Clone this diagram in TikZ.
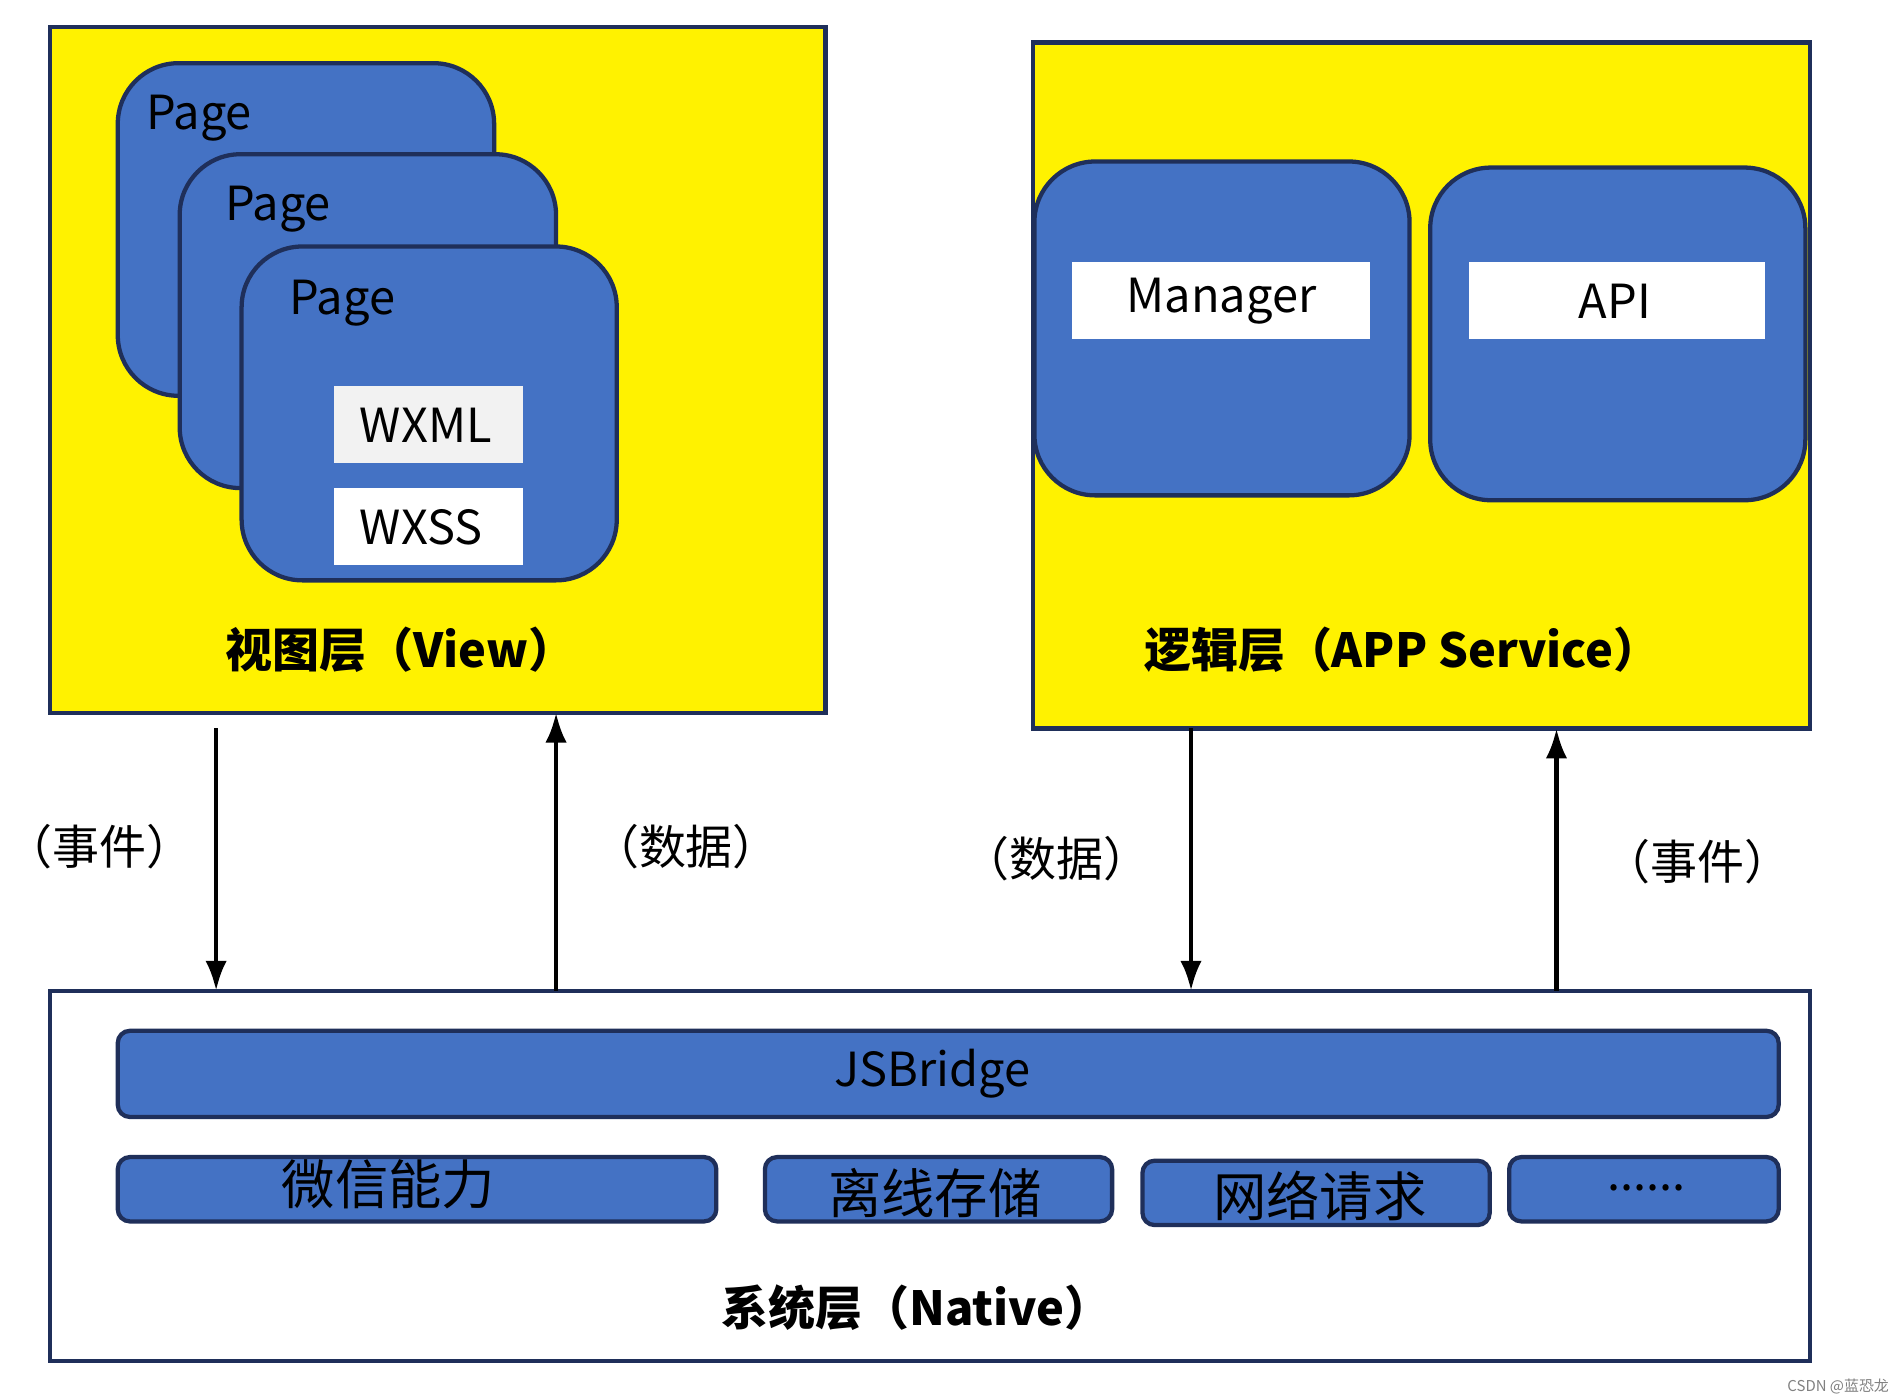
\documentclass[tikz,border=0pt]{standalone}
\usepackage{fontspec}
\setmainfont{Noto Sans CJK SC}
\usetikzlibrary{arrows.meta}
\definecolor{bl}{HTML}{4472C4}
\definecolor{nv}{HTML}{1F2F5A}
\tikzset{
 box/.style={draw=nv,line width=1pt},
 yel/.style={box,fill=yellow},
 pg/.style={box,fill=bl,rounded corners=0.5cm},
 sm/.style={box,fill=bl,rounded corners=0.1cm},
 wh/.style={fill=white},
 t/.style={font=\fontsize{11}{13}\selectfont},
 tc/.style={font=\fontsize{12.5}{14}\selectfont},
 tb/.style={font=\fontsize{11}{13}\selectfont\bfseries},
 arr/.style={line width=1pt,-{Latex[length=7pt,width=5pt]}}
}
\begin{document}
\begin{tikzpicture}[x=0.01cm,y=-0.01cm]
\useasboundingbox (0,0) rectangle (1560,1150);
% view layer
\draw[yel] (41,22) rectangle (680,587);
\draw[pg] (97,52) rectangle (407,326);
\draw[pg] (148,127) rectangle (458,402);
\draw[pg] (199,203) rectangle (508,478);
\node[t,anchor=west] (p1) at (108,97) {Page};
\node[t,anchor=west] (p2) at (173,172) {Page};
\node[t,anchor=west] (p3) at (226,250) {Page};
\fill[fill={rgb,255:red,242;green,242;blue,242}] (275,318) rectangle (431,381);
\node[t,anchor=west] (wxml) at (284,350) {WXML};
\fill[wh] (275,402) rectangle (431,465);
\node[t,anchor=west] (wxss) at (284,434) {WXSS};
\node[tb] (vl) at (330,535) {视图层（View）};
% logic layer
\draw[yel] (851,35) rectangle (1491,600);
\draw[pg] (852,133) rectangle (1161,408);
\draw[pg] (1178,138) rectangle (1487,412);
\fill[wh] (883,216) rectangle (1128,279);
\node[t] (mgr) at (1006,248) {Manager};
\fill[wh] (1210,216) rectangle (1454,279);
\node[t] (api) at (1330,248) {API};
\node[tb] (ll) at (1155,535) {逻辑层（APP Service）};
% native
\draw[box,fill=white] (41,816) rectangle (1491,1121);
\draw[sm] (97,849) rectangle (1465,920);
\node[t] (jsb) at (768,884) {JSBridge};
\draw[sm] (97,953) rectangle (590,1006);
\node[tc] (wx) at (320,975) {微信能力};
\draw[sm] (630,953) rectangle (916,1006);
\node[tc] (lx) at (770,983) {离线存储};
\draw[sm] (941,956) rectangle (1227,1009);
\node[tc] (wl) at (1087,985) {网络请求};
\draw[sm] (1243,953) rectangle (1465,1006);
\node[t] (dots) at (1356,978) {......};
\node[tb] (nl) at (755,1077) {系统层（Native）};
% arrows
\coordinate (a1s) at (178,600); \coordinate (a1e) at (178,816);
\coordinate (a2s) at (458,816); \coordinate (a2e) at (458,587);
\coordinate (a3s) at (981,600); \coordinate (a3e) at (981,816);
\coordinate (a4s) at (1282,816); \coordinate (a4e) at (1282,600);
\draw[arr] (a1s) -- (a1e);
\draw[arr] (a2s) -- (a2e);
\draw[arr] (a3s) -- (a3e);
\draw[arr] (a4s) -- (a4e);
\node[t] (e1) at (82,697) {（事件）};
\node[t] (d1) at (565,697) {（数据）};
\node[t] (d2) at (870,707) {（数据）};
\node[t] (e2) at (1398,710) {（事件）};
\node[font=\fontsize{3.5}{4}\selectfont,text=gray] (wm) at (1514,1142) {CSDN @蓝恐龙};
\end{tikzpicture}
\end{document}
